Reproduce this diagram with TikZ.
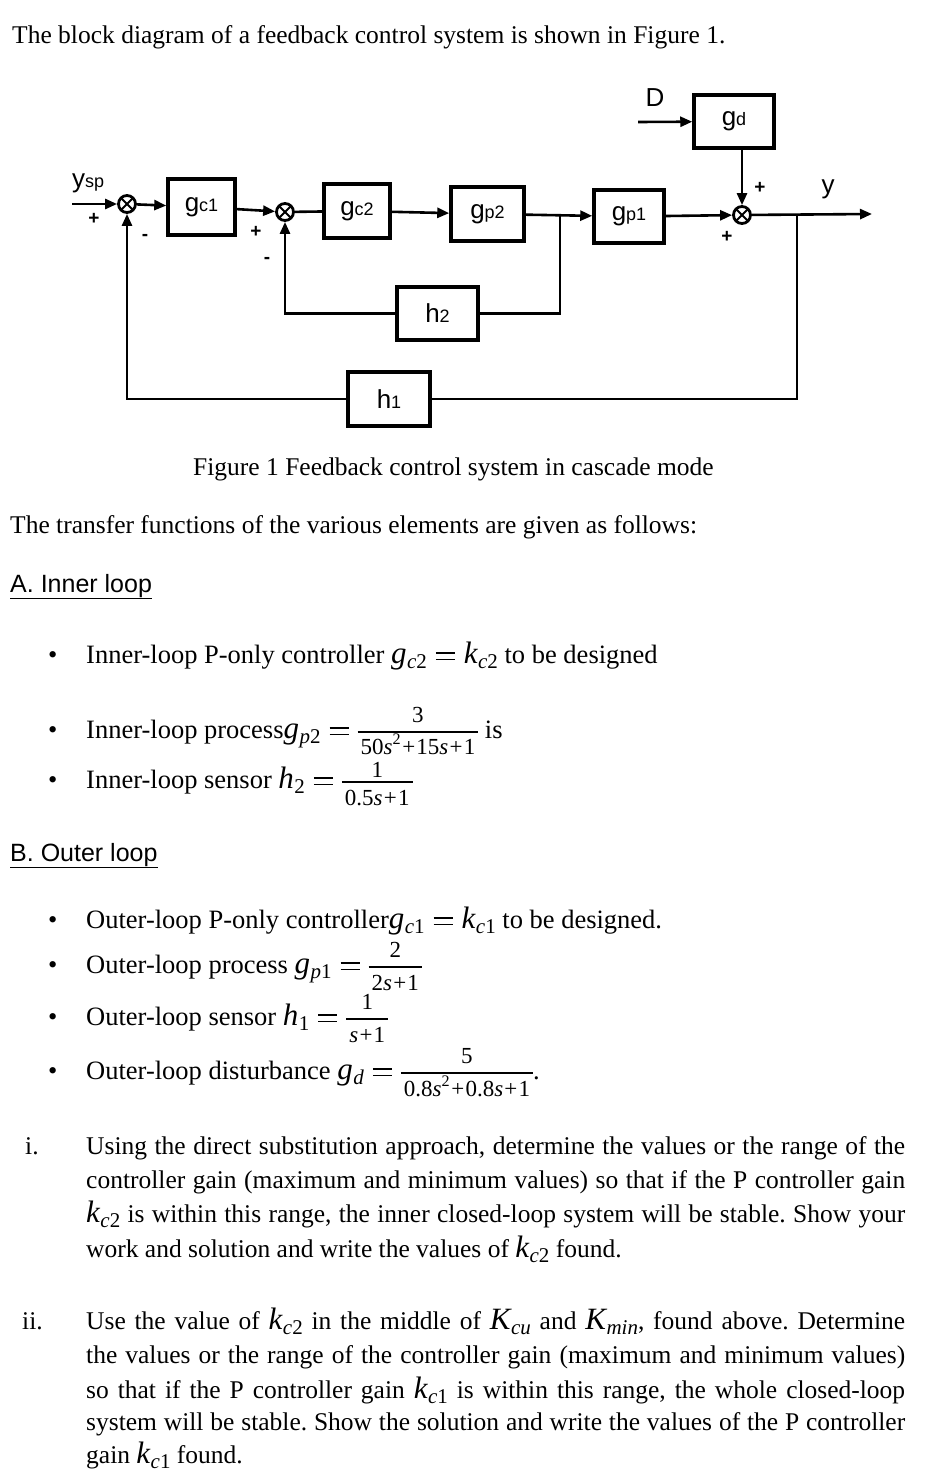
\documentclass[tikz,border=0pt]{standalone}
\usepackage{fontspec}
\setmainfont{Liberation Serif}
\setsansfont{Liberation Sans}
\usetikzlibrary{arrows.meta}
% variable with subscript, set in text fonts
\newcommand{\var}[2]{{\fontsize{31}{31}\selectfont\itshape #1}\kern0.5pt\raisebox{-5pt}{\fontsize{21}{21}\selectfont #2}}
\newcommand{\eqs}{\hspace{9pt}\rule[3pt]{19pt}{1.3pt}\kern-19pt\rule[9.5pt]{19pt}{1.3pt}\hspace{9pt}}
\newcommand{\pl}{\kern1.2pt+\kern1.2pt}
\newlength\frw
\NewDocumentCommand{\fr}{O{16pt} O{17pt} m m}{%
  \sbox0{\fontsize{23}{23}\selectfont #3}\sbox2{\fontsize{23}{23}\selectfont #4}%
  \setlength\frw{\wd2}\ifdim\wd0>\frw\setlength\frw{\wd0}\fi\addtolength\frw{6pt}%
  \rule[5.5pt]{\frw}{1.1pt}\kern-\frw
  \makebox[\frw]{\raisebox{#1}{\usebox0}}\kern-\frw
  \makebox[\frw]{\raisebox{-#2}{\usebox2}}}
\newcommand{\lbl}[2]{#1{\fontsize{18}{18}\selectfont #2}}
\begin{document}
\begin{tikzpicture}[x=1pt,y=-1pt,
  blk/.style={draw,line width=3.5pt,inner sep=0pt,font=\sffamily\fontsize{26}{26}\selectfont},
  sumj/.style={circle,draw,line width=2.8pt,minimum size=17pt,inner sep=0pt,
    path picture={\draw[line width=2pt]
      (path picture bounding box.north west) -- (path picture bounding box.south east)
      (path picture bounding box.north east) -- (path picture bounding box.south west);}},
  wire/.style={line width=2.6pt},
  arr/.style={wire,-{Triangle[length=12pt,width=10pt]}},
  sgn/.style={inner sep=0pt,font=\sffamily\bfseries\fontsize{19}{19}\selectfont},
  dlab/.style={inner sep=0pt,font=\sffamily\fontsize{26}{26}\selectfont},
  txt/.style={anchor=base west,inner sep=0pt,font=\frenchspacing\fontsize{25.5}{30}\selectfont},
  btxt/.style={anchor=base west,inner sep=0pt,font=\frenchspacing\fontsize{26.5}{30}\selectfont},
  sec/.style={anchor=base west,inner sep=0pt,font=\sffamily\fontsize{25}{30}\selectfont},
]
\useasboundingbox[fill=white] (0,0) rectangle (928,1482);

% ---------- block diagram ----------
\node[blk,minimum width=67pt,minimum height=56pt] (gc1) at (201.5,207) {\lbl{g}{c1}};
\node[blk,minimum width=66pt,minimum height=54pt] (gc2) at (357,211) {\lbl{g}{c2}};
\node[blk,minimum width=73pt,minimum height=54pt] (gp2) at (487.5,214) {\lbl{g}{p2}};
\node[blk,minimum width=70pt,minimum height=53pt] (gp1) at (629,216.5) {\lbl{g}{p1}};
\node[blk,minimum width=80pt,minimum height=53pt] (gd) at (734,121.5) {\lbl{g}{d}};
\node[blk,minimum width=81pt,minimum height=53pt] (h2) at (437.5,313.5) {\lbl{h}{2}};
\node[blk,minimum width=82pt,minimum height=54pt] (h1) at (389,399) {\lbl{h}{1}};

\node[sumj] (s1) at (127,204) {};
\node[sumj] (s2) at (285,212) {};
\node[sumj] (s3) at (742,215) {};

\coordinate (in) at (72,204);
\coordinate (out) at (872,214);
\coordinate (dist) at (638,122);
\coordinate (br1) at (560,215);
\coordinate (br2) at (797,214.5);

\draw[arr] (in) -- (s1);
\draw[arr] (s1) -- (gc1);
\draw[arr] (gc1) -- (s2);
\draw[wire] (s2) -- (gc2);
\draw[arr] (gc2) -- (gp2);
\draw[arr] (gp2) -- (gp1);
\draw[arr] (gp1) -- (s3);
\draw[arr] (s3) -- (out);
\draw[arr] (dist) -- (gd);
\draw[arr] (gd.south -| s3) -- (s3.north);
\draw[wire] (br1) |- (h2.east);
\draw[arr] (h2.west) -| (s2.south);
\draw[wire] (br2) |- (h1.east);
\draw[arr] (h1.west) -| (s1.south);

\node[dlab,anchor=base west] (ysp) at (72,188) {y{\fontsize{18}{18}\selectfont sp}};
\node[dlab] (Dl) at (655,98) {D};
\node[dlab] (yl) at (828,189) {y};
\node[sgn] (p1) at (94,219) {+};
\node[sgn] (m1) at (145,237) {-};
\node[sgn] (p2) at (256,232) {+};
\node[sgn] (m2) at (267,260) {-};
\node[sgn] (p3) at (727,237) {+};
\node[sgn] (p4) at (760,188) {+};

% ---------- text ----------
\node[txt] (t1) at (12,44) {The block diagram of a feedback control system is shown in Figure 1.};
\node[txt] (cap) at (193,475) {Figure 1 Feedback control system in cascade mode};
\node[txt] (t2) at (10,533) {The transfer functions of the various elements are given as follows:};

\node[sec] (secA) at (10,592) {\underline{A. Inner loop}};
\node[btxt] (ba1) at (48,663) {•};
\node[btxt] (a1) at (86,663) {Inner-loop P-only controller \var{g}{\textit{c}2}\eqs\var{k}{\textit{c}2} to be designed};
\node[btxt] (ba2) at (48,738) {•};
\node[btxt] (a2) at (86,738) {Inner-loop process\var{g}{\textit{p}2}\eqs\fr[16pt][16pt]{3}{50\textit{s}\textsuperscript{2}\pl15\textit{s}\pl1} is};
\node[btxt] (ba3) at (48,788) {•};
\node[btxt] (a3) at (86,788) {Inner-loop sensor \var{h}{2}\eqs\fr[11pt][17pt]{1}{0.5\textit{s}\pl1}};

\node[sec] (secB) at (10,861) {\underline{B. Outer loop}};
\node[btxt] (bb1) at (48,928) {•};
\node[btxt] (o1) at (86,928) {Outer-loop P-only controller\var{g}{\textit{c}1}\eqs\var{k}{\textit{c}1} to be designed.};
\node[btxt] (bb2) at (48,973) {•};
\node[btxt] (o2) at (86,973) {Outer-loop process \var{g}{\textit{p}1}\eqs\fr{2}{2\textit{s}\pl1}};
\node[btxt] (bb3) at (48,1025) {•};
\node[btxt] (o3) at (86,1025) {Outer-loop sensor \var{h}{1}\eqs\fr{1}{\textit{s}\pl1}};
\node[btxt] (bb4) at (48,1079) {•};
\node[btxt] (o4) at (86,1079) {Outer-loop disturbance \var{g}{\textit{d}}\eqs\fr{5}{0.8\textit{s}\textsuperscript{2}\pl0.8\textit{s}\pl1}.};

\node[txt] (ni) at (25,1154) {i.};
\node[txt] (i1) at (86,1154) {\makebox[819pt][s]{Using the direct substitution approach, determine the values or the range of the}};
\node[txt] (i2) at (86,1188) {\makebox[819pt][s]{controller gain (maximum and minimum values) so that if the P controller gain}};
\node[txt] (i3) at (86,1222) {\makebox[819pt][s]{\var{k}{\textit{c}2} is within this range, the inner closed-loop system will be stable. Show your}};
\node[txt] (i4) at (86,1257) {work and solution and write the values of \var{k}{\textit{c}2} found.};

\node[txt] (nii) at (22,1329) {ii.};
\node[txt] (j1) at (86,1329) {\makebox[819pt][s]{Use the value of \var{k}{\textit{c}2} in the middle of \var{K}{\textit{cu}} and \var{K}{\textit{min}}, found above. Determine}};
\node[txt] (j2) at (86,1363) {\makebox[819pt][s]{the values or the range of the controller gain (maximum and minimum values)}};
\node[txt] (j3) at (86,1398) {\makebox[819pt][s]{so that if the P controller gain \var{k}{\textit{c}1} is within this range, the whole closed-loop}};
\node[txt] (j4) at (86,1430) {\makebox[819pt][s]{system will be stable. Show the solution and write the values of the P controller}};
\node[txt] (j5) at (86,1463) {gain \var{k}{\textit{c}1} found.};
\end{tikzpicture}
\end{document}
